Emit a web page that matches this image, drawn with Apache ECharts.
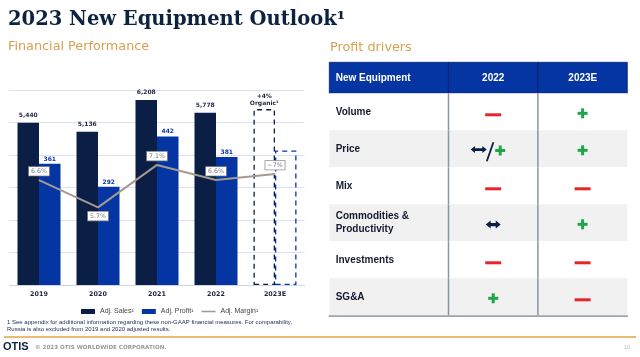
<!DOCTYPE html>
<html><head><meta charset="utf-8">
<script src="https://cdn.jsdelivr.net/npm/echarts@6/dist/echarts.min.js"></script>
<style>html,body{margin:0;padding:0;background:#fff}#c{width:640px;height:357px}</style>
</head><body><div id="c"></div>
<script>
// ---- data ----
const years = ['2019', '2020', '2021', '2022', '2023E'];
const adjSales = [5440, 5136, 6208, 5778, 5900];
const adjProfit = [361, 292, 442, 381, 400];
const adjMargin = [6.6, 5.7, 7.1, 6.6, 6.8];
const marginLabels = ['6.6%', '5.7%', '7.1%', '6.6%', '~7%'];
const marginLabelPos = ['top', 'bottom', 'top', 'top', 'top'];
const outlookNote = '+4%\nOrganic¹';
const tableHeader = ['New Equipment', '2022', '2023E'];
const driverRows = ['Volume', 'Price', 'Mix', 'Commodities &\nProductivity', 'Investments', 'SG&A'];
const drivers2022 = ['-', '~/+', '-', '~', '-', '+'];
const drivers2023 = ['+', '+', '-', '+', '-', '-'];
const footnote = ['1 See appendix for additional information regarding these non-GAAP financial measures. For comparability,',
                  'Russia is also excluded from 2019 and 2020 adjusted results.'];

// ---- styles ----
const NAVY = '#0b1e45', BLUE = '#0535a3', GRAY = '#a39a92', GOLD = '#d6a151';
const RED = '#e4262b', GREEN = '#1fa64a', SANS = 'Liberation Sans', DJ = 'DejaVu Sans';

const chart = echarts.init(document.getElementById('c'), null, {renderer: 'canvas'});

const lastIdx = years.length - 1;
const salesData = adjSales.map((v, i) => i === lastIdx ? {
  value: v,
  itemStyle: {color: 'rgba(0,0,0,0)', borderColor: NAVY, borderWidth: 1.3, borderType: [5, 4]},
  label: {formatter: outlookNote, lineHeight: 7, distance: 2}
} : v);
const profitData = adjProfit.map((v, i) => i === lastIdx ? {
  value: v,
  itemStyle: {color: 'rgba(0,0,0,0)', borderColor: BLUE, borderWidth: 1.3, borderType: [5, 4]},
  label: {show: false}
} : v);
const marginData = adjMargin.map((v, i) => ({
  value: v,
  label: {position: marginLabelPos[i], formatter: marginLabels[i]}
}));

function arrow(x, y, w, h) {
  const hl = h * 0.62, t = h * 0.42;
  return {type: 'polygon', shape: {points: [
    [x - w / 2, y], [x - w / 2 + hl, y - h / 2], [x - w / 2 + hl, y - t / 2], [x + w / 2 - hl, y - t / 2],
    [x + w / 2 - hl, y - h / 2], [x + w / 2, y], [x + w / 2 - hl, y + h / 2], [x + w / 2 - hl, y + t / 2],
    [x - w / 2 + hl, y + t / 2], [x - w / 2 + hl, y + h / 2]]}, style: {fill: NAVY}};
}
function minus(x, y) { return [{type: 'rect', shape: {x: x - 8, y: y + 1.5, width: 16, height: 3}, style: {fill: RED}}]; }
function plus(x, y) {
  return [{type: 'rect', shape: {x: x - 5, y: y, width: 10, height: 3}, style: {fill: GREEN}},
          {type: 'rect', shape: {x: x - 1.5, y: y - 3.5, width: 3, height: 10}, style: {fill: GREEN}}];
}
function symbol(kind, x, y) {
  if (kind === '-') return minus(x, y);
  if (kind === '+') return plus(x, y);
  if (kind === '~') return [arrow(x, y + 1.8, 15, 8)];
  if (kind === '~/+') return [arrow(x - 14.5, y + 0.8, 16, 7),
    {type: 'line', shape: {x1: x - 6.4, y1: y + 12.4, x2: x + 0.2, y2: y - 6.6}, style: {stroke: NAVY, lineWidth: 1.8}},
    ...plus(x + 7, y + 0.2)];
  return [];
}

function renderRow(params, api) {
  const i = params.dataIndex;
  const c0 = api.coord([0, i]);
  const band = api.size([0, 1])[1];
  const w = api.size([10, 0])[0];
  const top = c0[1] - band / 2, cy = c0[1];
  const x4 = api.coord([4, i])[0], x7 = api.coord([7, i])[0];
  const x55 = api.coord([5.5, i])[0], x85 = api.coord([8.5, i])[0];
  const children = [
    {type: 'rect', shape: {x: c0[0], y: top, width: w, height: band}, style: {fill: i % 2 ? '#f1f1f1' : '#ffffff'}},
    {type: 'line', shape: {x1: x4, y1: top, x2: x4, y2: top + band}, style: {stroke: '#8a94a6', lineWidth: 1.5}},
    {type: 'line', shape: {x1: x7, y1: top, x2: x7, y2: top + band}, style: {stroke: '#8a94a6', lineWidth: 1.5}},
    {type: 'text', x: c0[0] + 6.4, y: cy, style: {text: driverRows[i], fill: '#121a2e', font: 'bold 10px "Liberation Sans"',
      verticalAlign: 'middle', align: 'left', lineHeight: 13}},
    ...symbol(drivers2022[i], x55, cy),
    ...symbol(drivers2023[i], x85, cy)
  ];
  return {type: 'group', children};
}

const option = {
  animation: false,
  backgroundColor: '#ffffff',
  textStyle: {fontFamily: SANS},
  grid: [
    {left: 9.5, right: 335.5, top: 90, bottom: 72, containLabel: false},
    {left: 329.3, top: 93.3, width: 298, height: 222}
  ],
  legend: {
    left: 76, top: 303, itemWidth: 14, itemHeight: 5, itemGap: 8, symbolKeepAspect: true,
    textStyle: {fontSize: 7, color: '#444', fontFamily: SANS},
    data: [{name: 'Adj. Sales¹', icon: 'rect'}, {name: 'Adj. Profit¹', icon: 'rect'},
           {name: 'Adj. Margin¹', icon: 'path://M0,0L14,0L14,1.6L0,1.6Z'}]
  },
  xAxis: [
    {type: 'category', data: years, gridIndex: 0,
     axisLine: {lineStyle: {color: '#c9d6ee', width: 1}}, axisTick: {show: false},
     axisLabel: {fontSize: 6.4, fontWeight: 'bold', color: '#1d2640', margin: 6, fontFamily: DJ}},
    {type: 'value', gridIndex: 1, min: 0, max: 10, show: true,
     axisLine: {show: true, onZero: false, lineStyle: {color: '#7d879a', width: 1.6}},
     axisTick: {show: false}, axisLabel: {show: false}, splitLine: {show: false}}
  ],
  yAxis: [
    {type: 'value', gridIndex: 0, min: 0, max: 6540, interval: 1090,
     axisLabel: {show: false}, axisLine: {show: false}, axisTick: {show: false},
     splitLine: {lineStyle: {color: '#d8e2f3', width: 1}}},
    {type: 'value', gridIndex: 0, min: 0, max: 580, show: false, splitLine: {show: false}},
    {type: 'value', gridIndex: 0, min: 3.14, max: 9.57, show: false, splitLine: {show: false}},
    {type: 'category', gridIndex: 1, data: driverRows, inverse: true, show: false}
  ],
  series: [
    {name: 'Adj. Sales¹', type: 'bar', xAxisIndex: 0, yAxisIndex: 0, data: salesData,
     barWidth: 21.5, barGap: '0%', itemStyle: {color: NAVY},
     label: {show: true, position: 'top', distance: 4, fontSize: 6, fontWeight: 'bold', color: '#1d2640', fontFamily: DJ,
       formatter: p => p.value.toLocaleString('en-US')}},
    {name: 'Adj. Profit¹', type: 'bar', xAxisIndex: 0, yAxisIndex: 1, data: profitData,
     barWidth: 21.5, barGap: '0%', itemStyle: {color: BLUE},
     label: {show: true, position: 'top', distance: 1.5, fontSize: 6, fontWeight: 'bold', color: BLUE, fontFamily: DJ}},
    {name: 'Adj. Margin¹', type: 'line', xAxisIndex: 0, yAxisIndex: 2, data: marginData, z: 5,
     symbol: 'circle', symbolSize: 1, showSymbol: true, lineStyle: {color: GRAY, width: 2}, itemStyle: {color: GRAY},
     label: {show: true, distance: 4, fontSize: 6.3, color: '#7c7c7c', fontFamily: DJ,
       backgroundColor: '#fff', borderColor: '#8e8e8e', borderWidth: 0.8, padding: [1.5, 2, 1, 2]}},
    {type: 'custom', xAxisIndex: 1, yAxisIndex: 3, data: driverRows.map((r, i) => [0, i]),
     encode: {x: 0, y: 1}, renderItem: renderRow, silent: true}
  ],
  graphic: [
    {type: 'text', left: 8, top: 10, style: {text: '2023 New Equipment Outlook¹', fill: '#0c2340',
      font: 'bold 19.5px "DejaVu Serif"'}},
    {type: 'text', left: 8, top: 40, style: {text: 'Financial Performance', fill: GOLD, font: '12.8px "DejaVu Sans"'}},
    {type: 'text', left: 330, top: 41, style: {text: 'Profit drivers', fill: GOLD, font: '12.8px "DejaVu Sans"'}},
    {type: 'rect', shape: {x: 329.3, y: 62.3, width: 298, height: 31}, style: {fill: BLUE, stroke: '#0a2270', lineWidth: 0.8}},
    {type: 'line', shape: {x1: 448.5, y1: 62.3, x2: 448.5, y2: 93.3}, style: {stroke: '#0a2270', lineWidth: 1.2}},
    {type: 'line', shape: {x1: 537.9, y1: 62.3, x2: 537.9, y2: 93.3}, style: {stroke: '#0a2270', lineWidth: 1.2}},
    {type: 'text', x: 335.7, y: 78.3, style: {text: tableHeader[0], fill: '#fff', font: 'bold 10px "Liberation Sans"', verticalAlign: 'middle'}},
    {type: 'text', x: 493.2, y: 78.3, style: {text: tableHeader[1], fill: '#fff', font: 'bold 10px "Liberation Sans"', verticalAlign: 'middle', align: 'center'}},
    {type: 'text', x: 582.8, y: 78.3, style: {text: tableHeader[2], fill: '#fff', font: 'bold 10px "Liberation Sans"', verticalAlign: 'middle', align: 'center'}},
    {type: 'text', x: 7, y: 322.3, style: {text: footnote[0], fill: '#22315e', font: '6px "Liberation Sans"', verticalAlign: 'middle'}},
    {type: 'text', x: 7, y: 329.6, style: {text: footnote[1], fill: '#22315e', font: '6px "Liberation Sans"', verticalAlign: 'middle'}},
    {type: 'line', shape: {x1: 4, y1: 337, x2: 636, y2: 337}, style: {stroke: '#e2a547', lineWidth: 1.4}},
    {type: 'text', x: 3, y: 347.3, style: {text: 'OTIS', fill: '#0c2340', font: 'bold 11px "Liberation Sans"', verticalAlign: 'middle'}},
    {type: 'text', x: 35, y: 347.3, style: {text: '© 2023 OTIS WORLDWIDE CORPORATION.', fill: '#9a9a9a', font: 'bold 5.6px "DejaVu Sans"', verticalAlign: 'middle'}},
    {type: 'text', x: 627, y: 347, style: {text: '10', fill: '#b5b5b5', font: '5.5px "Liberation Sans"', verticalAlign: 'middle', align: 'center'}}
  ]
};
chart.setOption(option);
</script>
</body></html>
